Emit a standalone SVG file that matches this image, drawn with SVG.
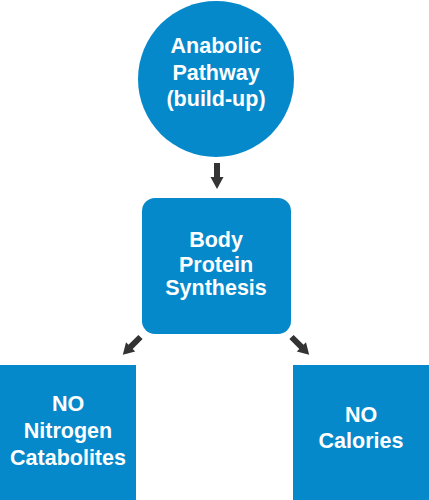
<svg xmlns="http://www.w3.org/2000/svg" width="429" height="500" viewBox="0 0 429 500">
<defs>
<style>
.node{fill:#0689CB;}
.lbl{font-family:"Liberation Sans",Arial,sans-serif;font-weight:bold;font-size:21.5px;fill:#fff;text-anchor:middle;}
.arr{fill:#333333;}
</style>
</defs>
<rect width="429" height="500" fill="#fff"/>
<g id="connectors">
<polygon class="arr" points="214,163 220,163 220,177 223.5,177 217,189 210.5,177 214,177"/>
<g transform="translate(140.5,337) rotate(135)"><polygon class="arr" points="0,-3 14,-3 14,-6.5 25,0 14,6.5 14,3 0,3"/></g>
<g transform="translate(291.5,337) rotate(45)"><polygon class="arr" points="0,-3 14,-3 14,-6.5 25,0 14,6.5 14,3 0,3"/></g>
</g>
<g id="anabolic">
<circle class="node" cx="216" cy="79" r="78"/>
<text class="lbl" x="216" y="53">Anabolic</text>
<text class="lbl" x="216" y="80">Pathway</text>
<text class="lbl" x="216" y="106">(build-up)</text>
</g>
<g id="synthesis">
<rect class="node" x="142" y="198" width="149" height="136" rx="13"/>
<text class="lbl" x="216" y="247">Body</text>
<text class="lbl" x="216" y="272">Protein</text>
<text class="lbl" x="216" y="295">Synthesis</text>
</g>
<g id="nitrogen">
<rect class="node" x="0" y="365" width="136" height="135"/>
<text class="lbl" x="68" y="411">NO</text>
<text class="lbl" x="68" y="438">Nitrogen</text>
<text class="lbl" x="68" y="465">Catabolites</text>
</g>
<g id="calories">
<rect class="node" x="293" y="365" width="136" height="135"/>
<text class="lbl" x="361" y="422">NO</text>
<text class="lbl" x="361" y="448">Calories</text>
</g>
</svg>
